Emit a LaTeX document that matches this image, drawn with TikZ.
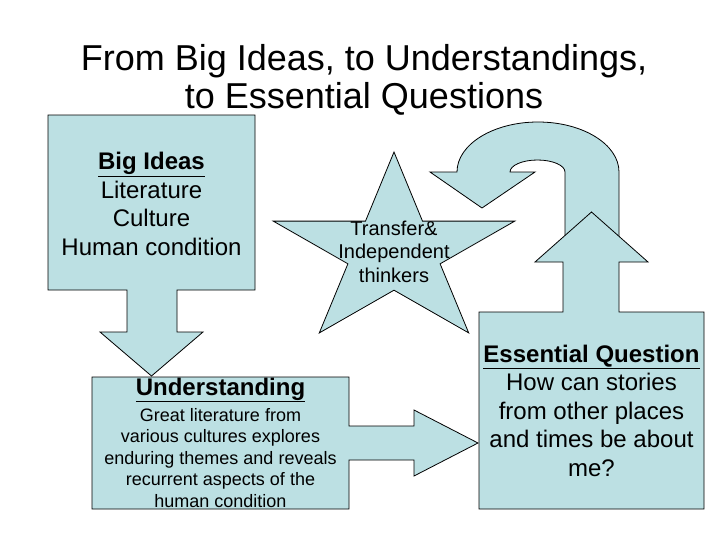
\documentclass[tikz,border=0pt]{standalone}
\usepackage{fontspec}
\setmainfont{Liberation Sans}
\definecolor{lblue}{RGB}{188,224,227}
\tikzset{
  shapefill/.style={fill=lblue},
  outline/.style={draw=black,line width=0.8pt,line join=miter},
  bigfont/.style={font=\fontsize{24}{28.5}\selectfont},
  smallfont/.style={font=\fontsize{18}{21.5}\selectfont},
  starfont/.style={font=\fontsize{20}{23.5}\selectfont},
  titlefont/.style={font=\fontsize{36}{38}\selectfont},
  txt/.style={inner sep=0pt,align=center,anchor=base}
}
\begin{document}
\begin{tikzpicture}[x=1pt,y=-1pt]
\useasboundingbox (0,0) rectangle (728,546);
\fill[white] (0,0) rectangle (728,546);

% title
\node[txt,titlefont] (title1) at (364,70) {From Big Ideas, to Understandings,};
\node[txt,titlefont] (title2) at (364,108) {to Essential Questions};

% U-turn arrow (behind the up arrow)
\coordinate (uo) at (619,245);
\filldraw[shapefill,outline] (uo) -- (619,172)
  arc[start angle=0,end angle=180,x radius=81pt,y radius=50pt]
  -- (430,172) -- (482,208) -- (535,172) -- (510,172)
  arc[start angle=180,end angle=0,x radius=27.5pt,y radius=12pt]
  -- (565,245);

% Big Ideas box with down arrow
\path[shapefill] (48,115) -- (255,115) -- (255,290) -- (177,290) -- (177,332)
  -- (203,332) -- (151.5,376) -- (100,332) -- (127,332) -- (127,290)
  -- (48,290) -- cycle;
\draw[outline] (48,115) -- (255,115) -- (255,290) -- (177,290) -- (177,332)
  -- (203,332) -- (151.5,376) -- (100,332) -- (127,332) -- (127,290)
  -- (48,290) -- cycle;
% multi-line nodes: base anchor = baseline of last line
\node[txt,bigfont] (big) at (151.5,255)
  {\underline{\textbf{Big Ideas}}\\Literature\\Culture\\Human condition};

% Understanding box with right arrow
\filldraw[shapefill,outline] (92,377) -- (349,377) -- (349,426) -- (414,426)
  -- (414,410) -- (478,443) -- (414,476) -- (414,460) -- (349,460)
  -- (349,509) -- (92,509) -- cycle;
\node[txt,bigfont] (under) at (220.5,395) {\underline{\textbf{Understanding}}};
\node[txt,smallfont] (underbody) at (220.5,507)
  {Great literature from\\various cultures explores\\enduring themes and reveals\\recurrent aspects of the\\human condition};

% Essential Question box with up arrow
\filldraw[shapefill,outline] (479,312) -- (563,312) -- (563,262) -- (535,262)
  -- (591.5,212) -- (648,262) -- (619,262) -- (619,312) -- (704,312)
  -- (704,509) -- (479,509) -- cycle;
\node[txt,bigfont] (eq) at (591.5,476)
  {\underline{\textbf{Essential Question}}\\How can stories\\from other places\\and times be about\\me?};

% star
\filldraw[shapefill,outline] (394,152) -- (365.5,221.1) -- (273.2,221.1)
  -- (347.9,263.8) -- (319.3,332.9) -- (394,290.2) -- (468.7,332.9)
  -- (440.1,263.8) -- (514.8,221.1) -- (422.5,221.1) -- cycle;
\node[txt,starfont] (star) at (394,282) {Transfer\&\\Independent\\thinkers};
\end{tikzpicture}
\end{document}
